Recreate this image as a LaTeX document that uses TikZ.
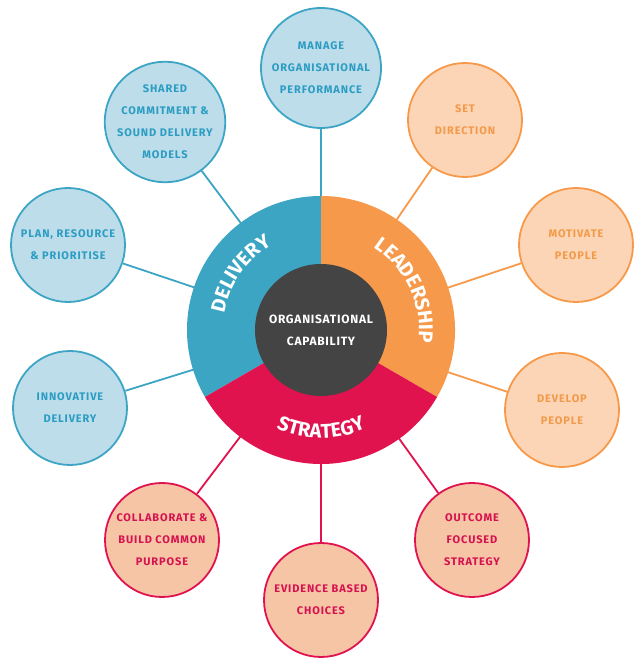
\documentclass[tikz,border=0pt]{standalone}
\usepackage{fontspec}
\setmainfont{Fira Sans}
\usetikzlibrary{decorations.text}
\definecolor{dblue}{HTML}{3DA5C4}
\definecolor{dorange}{HTML}{F7994A}
\definecolor{dred}{HTML}{E0134F}
\definecolor{ddark}{HTML}{444444}
\definecolor{lblue}{HTML}{BDDDEA}
\definecolor{lorange}{HTML}{FBD5B5}
\definecolor{lred}{HTML}{F5C5A5}
\definecolor{tblue}{HTML}{2B9CC2}
\definecolor{torange}{HTML}{F29A4A}
\definecolor{tred}{HTML}{D6114F}
\tikzset{
 base/.style={circle,minimum size=114pt,inner sep=0pt,line width=1.8pt,align=center,
   font=\fontsize{11}{22}\selectfont\bfseries\addfontfeatures{LetterSpace=8}},
 bcirc/.style={base,draw=dblue,fill=lblue,text=tblue},
 ocirc/.style={base,draw=dorange,fill=lorange,text=torange},
 rcirc/.style={base,draw=dred,fill=lred,text=tred},
 conn/.style={line width=1.8pt},
 ringtxt/.style={decorate,decoration={text along path,text align=center,
   text={|\fontsize{20}{20}\selectfont\bfseries\color{white}|#1}}}
}
\begin{document}
\begin{tikzpicture}[x=1pt,y=1pt]
\useasboundingbox (0,0) rectangle (640,660);
\coordinate (c) at (321,330);
\node[bcirc,minimum size=120pt] (manage) at (321,592) {MANAGE\\ORGANISATIONAL\\PERFORMANCE};
\node[ocirc] (set) at (465,540) {SET\\DIRECTION};
\node[ocirc] (motivate) at (576,415) {MOTIVATE\\PEOPLE};
\node[ocirc] (develop) at (562,250) {DEVELOP\\PEOPLE};
\node[rcirc] (outcome) at (472,120) {OUTCOME\\FOCUSED\\STRATEGY};
\node[rcirc] (evidence) at (321,60) {EVIDENCE BASED\\CHOICES};
\node[rcirc] (collab) at (162,120) {COLLABORATE \&\\BUILD COMMON\\PURPOSE};
\node[bcirc] (innov) at (70,252) {INNOVATIVE\\DELIVERY};
\node[bcirc] (plan) at (68,415) {PLAN, RESOURCE\\\& PRIORITISE};
\node[bcirc] (shared) at (165,538) {SHARED\\COMMITMENT \&\\SOUND DELIVERY\\MODELS};
\foreach \n in {manage,innov,plan,shared} \draw[conn,dblue] (c) -- (\n);
\foreach \n in {set,motivate,develop} \draw[conn,dorange] (c) -- (\n);
\foreach \n in {outcome,evidence,collab} \draw[conn,dred] (c) -- (\n);
% ring
\fill[dblue] (c) -- ++(90:134) arc (90:210:134) -- cycle;
\fill[dorange] (c) -- ++(-30:134) arc (-30:90:134) -- cycle;
\fill[dred] (c) -- ++(210:134) arc (210:330:134) -- cycle;
\node[circle,fill=ddark,minimum size=132pt,inner sep=0pt,text=white,align=center,
  font=\fontsize{12}{22}\selectfont\bfseries\addfontfeatures{LetterSpace=6}] (core) at (c) {ORGANISATIONAL\\CAPABILITY};
\path[ringtxt=DELIVERY] (c) ++(190:98) arc (190:100:98);
\path[ringtxt=LEADERSHIP] (c) ++(72:98) arc (72:-22:98);
\path[ringtxt=STRATEGY] (c) ++(230:108) arc (230:310:108);
\end{tikzpicture}
\end{document}
